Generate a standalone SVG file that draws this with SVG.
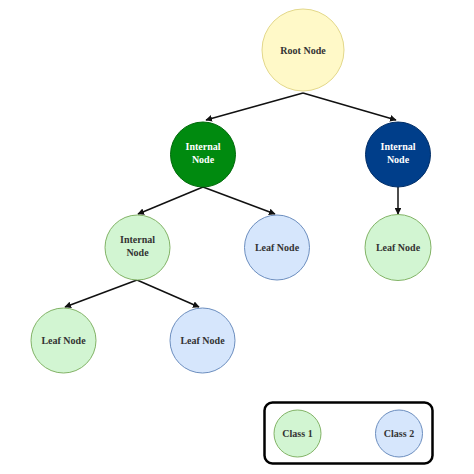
<svg xmlns="http://www.w3.org/2000/svg" width="474" height="474" viewBox="0 0 474 474">
<style>
text{font-family:"Liberation Serif","Times New Roman",serif;font-weight:bold;font-size:10px;text-anchor:middle}
.dark{fill:#333333}
.light{fill:#ffffff}
.yellow{fill:#fff9c8;stroke:#e3d88a;stroke-width:1}
.green{fill:#008a0f;stroke:#006a0a;stroke-width:1}
.navy{fill:#003e8a;stroke:#002d66;stroke-width:1}
.lgreen{fill:#d2f5d2;stroke:#82b366;stroke-width:1}
.lblue{fill:#d6e6fc;stroke:#6c8ebf;stroke-width:1}
.edge{stroke:#111111;stroke-width:1.5;fill:none;marker-end:url(#arr)}
</style>
<defs>
<marker id="arr" viewBox="0 0 10 10" refX="9" refY="5" markerWidth="4.5" markerHeight="4.5" orient="auto" markerUnits="strokeWidth">
<path d="M0,0 L10,5 L0,10 z" fill="#111111"/>
</marker>
</defs>
<rect width="474" height="474" fill="#ffffff"/>
<g id="connectors">
<line class="edge" x1="303" y1="93" x2="206" y2="120"/>
<line class="edge" x1="303" y1="93" x2="396" y2="120"/>
<line class="edge" x1="203" y1="187" x2="138" y2="214"/>
<line class="edge" x1="203" y1="187" x2="275" y2="214"/>
<line class="edge" x1="137" y1="280" x2="65" y2="307"/>
<line class="edge" x1="137" y1="280" x2="199" y2="307"/>
<line class="edge" x1="398" y1="187" x2="398" y2="214"/>
</g>
<g id="root">
<circle class="yellow" cx="303" cy="50" r="41"/>
<text class="dark" x="303" y="53.5">Root Node</text>
</g>
<g id="internal-left">
<circle class="green" cx="203" cy="154.5" r="32.5"/>
<text class="light" x="203" y="149.5">Internal</text>
<text class="light" x="203" y="162.5">Node</text>
</g>
<g id="internal-right">
<circle class="navy" cx="398" cy="154.5" r="32.5"/>
<text class="light" x="398" y="149.5">Internal</text>
<text class="light" x="398" y="162.5">Node</text>
</g>
<g id="internal-mid">
<circle class="lgreen" cx="137.5" cy="247.5" r="32.5"/>
<text class="dark" x="137.5" y="242.5">Internal</text>
<text class="dark" x="137.5" y="255.5">Node</text>
</g>
<g id="leaf-mid">
<circle class="lblue" cx="277" cy="247.5" r="32.5"/>
<text class="dark" x="277" y="251">Leaf Node</text>
</g>
<g id="leaf-right">
<circle class="lgreen" cx="398" cy="247.5" r="33"/>
<text class="dark" x="398" y="251">Leaf Node</text>
</g>
<g id="leaf-bottom-left">
<circle class="lgreen" cx="63.5" cy="340.5" r="32.5"/>
<text class="dark" x="63.5" y="344">Leaf Node</text>
</g>
<g id="leaf-bottom-right">
<circle class="lblue" cx="202.5" cy="340.5" r="32.5"/>
<text class="dark" x="202.5" y="344">Leaf Node</text>
</g>
<g id="legend">
<rect x="264.5" y="402.5" width="168" height="61" rx="8" ry="8" fill="#ffffff" stroke="#000000" stroke-width="2.5"/>
<circle class="lgreen" cx="297.5" cy="433.5" r="23.5"/>
<text class="dark" x="297.5" y="437">Class 1</text>
<circle class="lblue" cx="399" cy="433.5" r="23.5"/>
<text class="dark" x="399" y="437">Class 2</text>
</g>
</svg>
